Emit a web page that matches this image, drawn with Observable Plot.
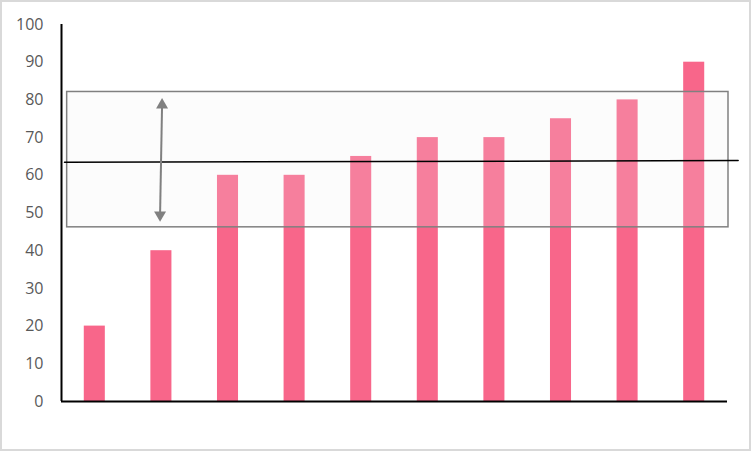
<!DOCTYPE html>
<html>
<head>
<meta charset="utf-8">
<script src="https://cdn.jsdelivr.net/npm/d3@7"></script>
<script src="https://cdn.jsdelivr.net/npm/@observablehq/plot@0.6"></script>
<style>
  html, body { margin: 0; padding: 0; background: #fff; overflow: hidden; }
  #wrap { position: relative; width: 751px; height: 451px; }
  #border { position: absolute; left: 0; top: 0; width: 751px; height: 451px; box-sizing: border-box; border: 2px solid #d9d9d9; pointer-events: none; }
  svg { display: block; }
</style>
</head>
<body>
<div id="wrap"><div id="chart"></div><div id="border"></div></div>
<script>
// Data
const categories = [1, 2, 3, 4, 5, 6, 7, 8, 9, 10];
const values = [20, 40, 60, 60, 65, 70, 70, 75, 80, 90];
const yTicks = [0, 10, 20, 30, 40, 50, 60, 70, 80, 90, 100];
const xDomain = [0.5, 10.5];
const barHalfWidth = 0.158;
// band (mean ± spread)
const bandLow = 46.2;
const bandHigh = 82.1;
const bandX = [0.585, 10.515];
// mean line endpoints
const meanLineX = [0.545, 10.66];
const meanLineY = [63.45, 63.9];
// double arrow
const arrowX = [2.01, 1.98];
const arrowHeadCenter = [78.66, 49.5];

const bars = categories.map((c, i) => ({c, v: values[i]}));
const meanLine = meanLineX.map((x, i) => ({x, y: meanLineY[i]}));

const chart = Plot.plot({
  width: 751,
  height: 451,
  marginLeft: 61,
  marginRight: 24,
  marginTop: 24,
  marginBottom: 50,
  style: {fontFamily: "'Open Sans', sans-serif", fontSize: "16px", background: "transparent"},
  x: {domain: xDomain, axis: null},
  y: {domain: [0, 100], axis: null},
  marks: [
    Plot.axisY({ticks: yTicks, tickSize: 0, tickPadding: 18, label: null, fill: "#595959", fontSize: 16, tickFormat: d => String(d)}),
    Plot.rectY(bars, {x1: d => d.c - barHalfWidth, x2: d => d.c + barHalfWidth, y1: 0, y2: "v", fill: "#F8668A"}),
    Plot.rect([{}], {x1: bandX[0], x2: bandX[1], y1: bandLow, y2: bandHigh, fill: "#EFEFEF", fillOpacity: 0.19, stroke: "#808080", strokeWidth: 1.5}),
    Plot.line(meanLine, {x: "x", y: "y", stroke: "#000", strokeWidth: 1.5}),
    Plot.link([{}], {x1: arrowX[0], x2: arrowX[1], y1: arrowHeadCenter[0], y2: arrowHeadCenter[1], stroke: "#808080", strokeWidth: 2}),
    Plot.dot([0, 1], {x: i => arrowX[i], y: i => arrowHeadCenter[i], symbol: "triangle", rotate: i => i === 0 ? 0 : 180, r: 4.45, fill: "#808080", stroke: "none"}),
    Plot.ruleY([0], {stroke: "#000", strokeWidth: 2}),
    Plot.ruleX([xDomain[0]], {y1: 0, y2: 100, stroke: "#000", strokeWidth: 2})
  ]
});
document.getElementById("chart").appendChild(chart);
</script>
</body>
</html>
